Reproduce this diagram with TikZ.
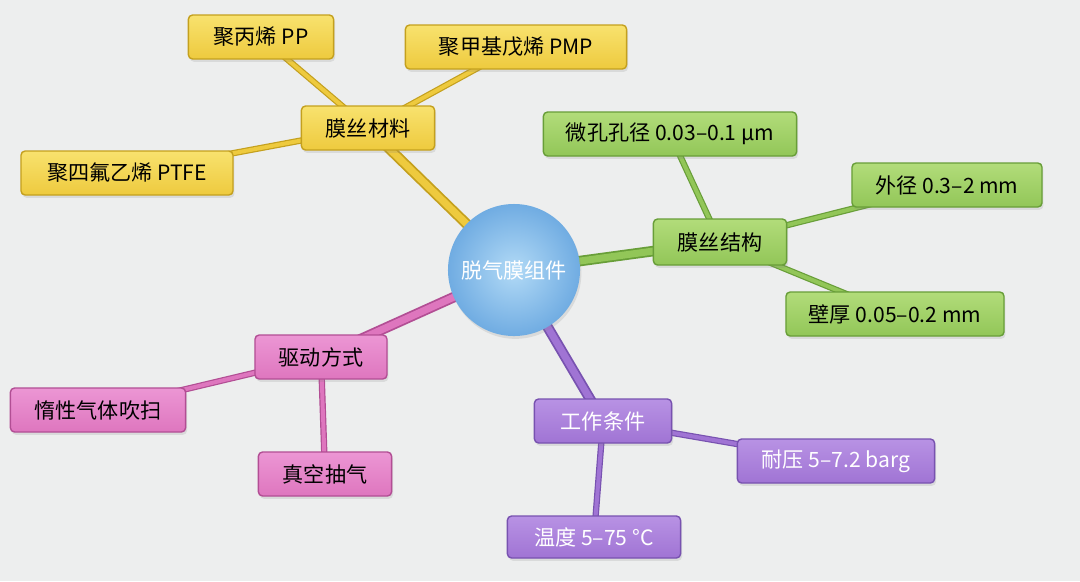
\documentclass[tikz,border=0pt]{standalone}
\usepackage{fontspec}
\usepackage{xcolor}
\newfontfamily\cjk{Noto Sans CJK SC}
\usetikzlibrary{backgrounds,shadows}

\definecolor{bgcol}{RGB}{237,238,238}
\definecolor{ylwfill}{RGB}{238,202,62}
\definecolor{ylwlight}{RGB}{248,226,110}
\definecolor{ylwdark}{RGB}{196,160,30}
\definecolor{grnfill}{RGB}{146,198,88}
\definecolor{grnlight}{RGB}{178,220,122}
\definecolor{grndark}{RGB}{104,158,56}
\definecolor{pnkfill}{RGB}{222,118,190}
\definecolor{pnklight}{RGB}{236,150,212}
\definecolor{pnkdark}{RGB}{178,78,148}
\definecolor{vltfill}{RGB}{160,116,212}
\definecolor{vltlight}{RGB}{184,146,228}
\definecolor{vltdark}{RGB}{120,82,176}
\definecolor{hubin}{RGB}{178,218,246}
\definecolor{hubout}{RGB}{112,172,226}

\tikzset{
  leaf/.style={rounded corners=3pt, minimum height=1.1cm, inner sep=0pt, line width=1pt,
    drop shadow={opacity=0.18, shadow xshift=1pt, shadow yshift=-2pt}},
  ylwbox/.style={leaf, draw=ylwdark, top color=ylwlight, bottom color=ylwfill, text=black},
  grnbox/.style={leaf, draw=grndark, top color=grnlight, bottom color=grnfill, text=black},
  pnkbox/.style={leaf, draw=pnkdark, top color=pnklight, bottom color=pnkfill, text=black},
  vltbox/.style={leaf, draw=vltdark, top color=vltlight, bottom color=vltfill, text=white},
  trunk/.style={line width=7.5pt, draw=#1dark, postaction={draw=#1fill, line width=5pt}},
  twig/.style={line width=4.5pt, draw=#1dark, postaction={draw=#1fill, line width=2.8pt}}
}

\begin{document}
\begin{tikzpicture}[x=0.025cm, y=-0.025cm, font=\cjk\fontsize{15}{18}\selectfont]
  \useasboundingbox (0,0) rectangle (1080,581);

  % centre
  \node[circle, minimum size=3.3cm, inner color=hubin, outer color=hubout, text=white,
    font=\cjk\fontsize{15}{18}\selectfont,
    drop shadow={opacity=0.18, shadow xshift=1pt, shadow yshift=-2pt}] (hub) at (514,270) {脱气膜组件};

  % material
  \node[ylwbox, minimum width=3.33cm] (mat) at (368,128) {膜丝材料};
  \node[ylwbox, minimum width=3.63cm] (pp) at (261,37) {聚丙烯 PP};
  \node[ylwbox, minimum width=5.53cm] (pmp) at (516,47) {聚甲基戊烯 PMP};
  \node[ylwbox, minimum width=5.30cm] (ptfe) at (127,173) {聚四氟乙烯 PTFE};

  % structure
  \node[grnbox, minimum width=3.33cm, minimum height=1.15cm] (str) at (720,242) {膜丝结构};
  \node[grnbox, minimum width=6.33cm] (pore) at (670,134) {微孔孔径 0.03–0.1 μm};
  \node[grnbox, minimum width=4.75cm] (od) at (947,185) {外径 0.3–2 mm};
  \node[grnbox, minimum width=5.45cm] (wall) at (895,314) {壁厚 0.05–0.2 mm};

  % drive
  \node[pnkbox, minimum width=3.30cm] (drv) at (321,357) {驱动方式};
  \node[pnkbox, minimum width=4.38cm] (sweep) at (98,410) {惰性气体吹扫};
  \node[pnkbox, minimum width=3.33cm] (vac) at (325,474) {真空抽气};

  % conditions
  \node[vltbox, minimum width=3.43cm] (cond) at (603,421) {工作条件};
  \node[vltbox, minimum width=4.93cm] (pres) at (836,461) {耐压 5–7.2 barg};
  \node[vltbox, minimum width=4.33cm, minimum height=1.05cm] (temp) at (594,537) {温度 5–75 °C};

  \begin{scope}[on background layer]
    \fill[bgcol] (0,0) rectangle (1080,581);
    \draw[trunk=ylw] (hub.center) -- (mat.center);
    \draw[trunk=grn] (hub.center) -- (str.center);
    \draw[trunk=pnk] (hub.center) -- (drv.center);
    \draw[trunk=vlt] (hub.center) -- (cond.center);
    \foreach \leafname in {pp,pmp,ptfe}
      \draw[twig=ylw] (mat.center) -- (\leafname.center);
    \foreach \leafname in {pore,od,wall}
      \draw[twig=grn] (str.center) -- (\leafname.center);
    \foreach \leafname in {sweep,vac}
      \draw[twig=pnk] (drv.center) -- (\leafname.center);
    \foreach \leafname in {pres,temp}
      \draw[twig=vlt] (cond.center) -- (\leafname.center);
  \end{scope}
\end{tikzpicture}
\end{document}
